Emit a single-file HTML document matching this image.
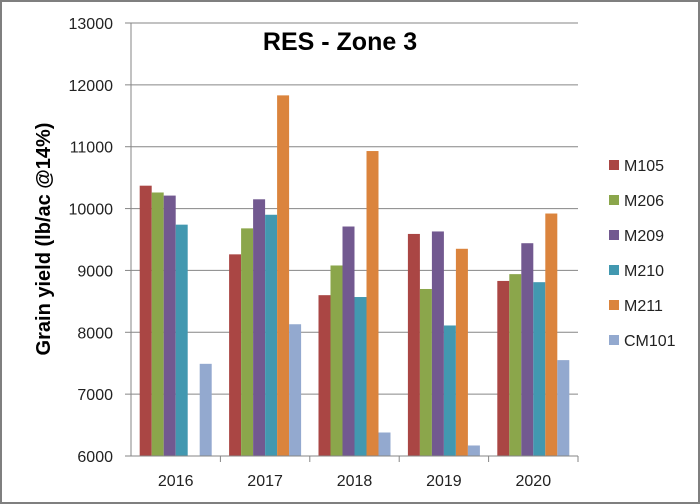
<!DOCTYPE html>
<html><head><meta charset="utf-8"><style>
body{margin:0;background:#fff;}
svg{display:block;font-family:"Liberation Sans",sans-serif;}
</style></head><body>
<svg id="chart" width="700" height="504">
<rect x="1" y="1" width="698" height="502" fill="#fff" stroke="#7f7f7f" stroke-width="2"/>
<g id="grid"></g>
<text x="340" y="50" font-size="25" font-weight="bold" text-anchor="middle">RES - Zone 3</text>
<text transform="translate(50,239) rotate(-90)" font-size="20" font-weight="bold" text-anchor="middle">Grain yield (lb/ac @14%)</text>
<g id="bars"></g><g id="axes"></g><g id="legend"></g>
</svg>
<script>
const categories=["2016","2017","2018","2019","2020"];
const seriesNames=["M105","M206","M209","M210","M211","CM101"];
const seriesColors=["#AA4644","#8BA64B","#725990","#4298B0","#DB843D","#93A9CF"];
const m105=[10370,9260,8600,9590,8830];
const m206=[10260,9680,9080,8700,8940];
const m209=[10210,10150,9710,9630,9440];
const m210=[9740,9900,8570,8110,8810];
const m211=[0,11830,10930,9350,9920];
const cm101=[7490,8130,6380,6170,7550];
const yTicks=[6000,7000,8000,9000,10000,11000,12000,13000];
const series=[m105,m206,m209,m210,m211,cm101];
const NS="http://www.w3.org/2000/svg";
const X0=131,X1=578,Y0=456,Y1=23,YMIN=6000,YMAX=13000;
const y=v=>Y0-(v-YMIN)/(YMAX-YMIN)*(Y0-Y1);
const cw=(X1-X0)/categories.length;
const bw=12;
function mk(t,a,p){const e=document.createElementNS(NS,t);for(const k in a)e.setAttribute(k,a[k]);p.appendChild(e);return e;}
const axes=document.getElementById('axes'),bars=document.getElementById('bars'),leg=document.getElementById('legend'),grid=document.getElementById('grid');
yTicks.forEach(v=>{
 if(v>YMIN){
  const g=mk('line',{x1:X0,x2:X1,y1:y(v),y2:y(v),stroke:'#868686','stroke-width':1},grid);
  
  
 }
 const l=mk('line',{x1:X0-6,x2:X0,y1:y(v),y2:y(v),stroke:'#868686'},axes);
 
 
 const t=mk('text',{x:X0-18,y:y(v)+6,'font-size':16,'text-anchor':'end',fill:'#222'},axes);
 t.textContent=v;
 
 
});
const ya=mk('line',{x1:X0,x2:X0,y1:Y1,y2:Y0,stroke:'#868686'},axes);


const xa=mk('line',{x1:X0,x2:X1,y1:Y0,y2:Y0,stroke:'#868686'},axes);


categories.forEach((c,i)=>{
 const tk=mk('line',{x1:X0+cw*(i+1),x2:X0+cw*(i+1),y1:Y0,y2:Y0+6,stroke:'#868686'},axes);
 
 
 const t=mk('text',{x:X0+cw*(i+0.5),y:486,'font-size':16,'text-anchor':'middle',fill:'#222'},axes);
 t.textContent=c;
 
 
 series.forEach((s,j)=>{
  const v=s[i]; if(!v||v<=YMIN) return;
  const bx=X0+cw*i+cw/2-bw*3+j*bw;
  const r=mk('rect',{x:bx,y:y(v),width:bw,height:Y0-y(v),fill:seriesColors[j]},bars);
  
  
 });
});
const legY=[165,200,235,270,305,340];
seriesNames.forEach((n,j)=>{
 const r=mk('rect',{x:609,y:legY[j]-5,width:10,height:10,fill:seriesColors[j]},leg);
 
 
 const t=mk('text',{x:624,y:legY[j]+6,'font-size':16,fill:'#222'},leg);
 t.textContent=n;
 
 
});
</script>
</body></html>
